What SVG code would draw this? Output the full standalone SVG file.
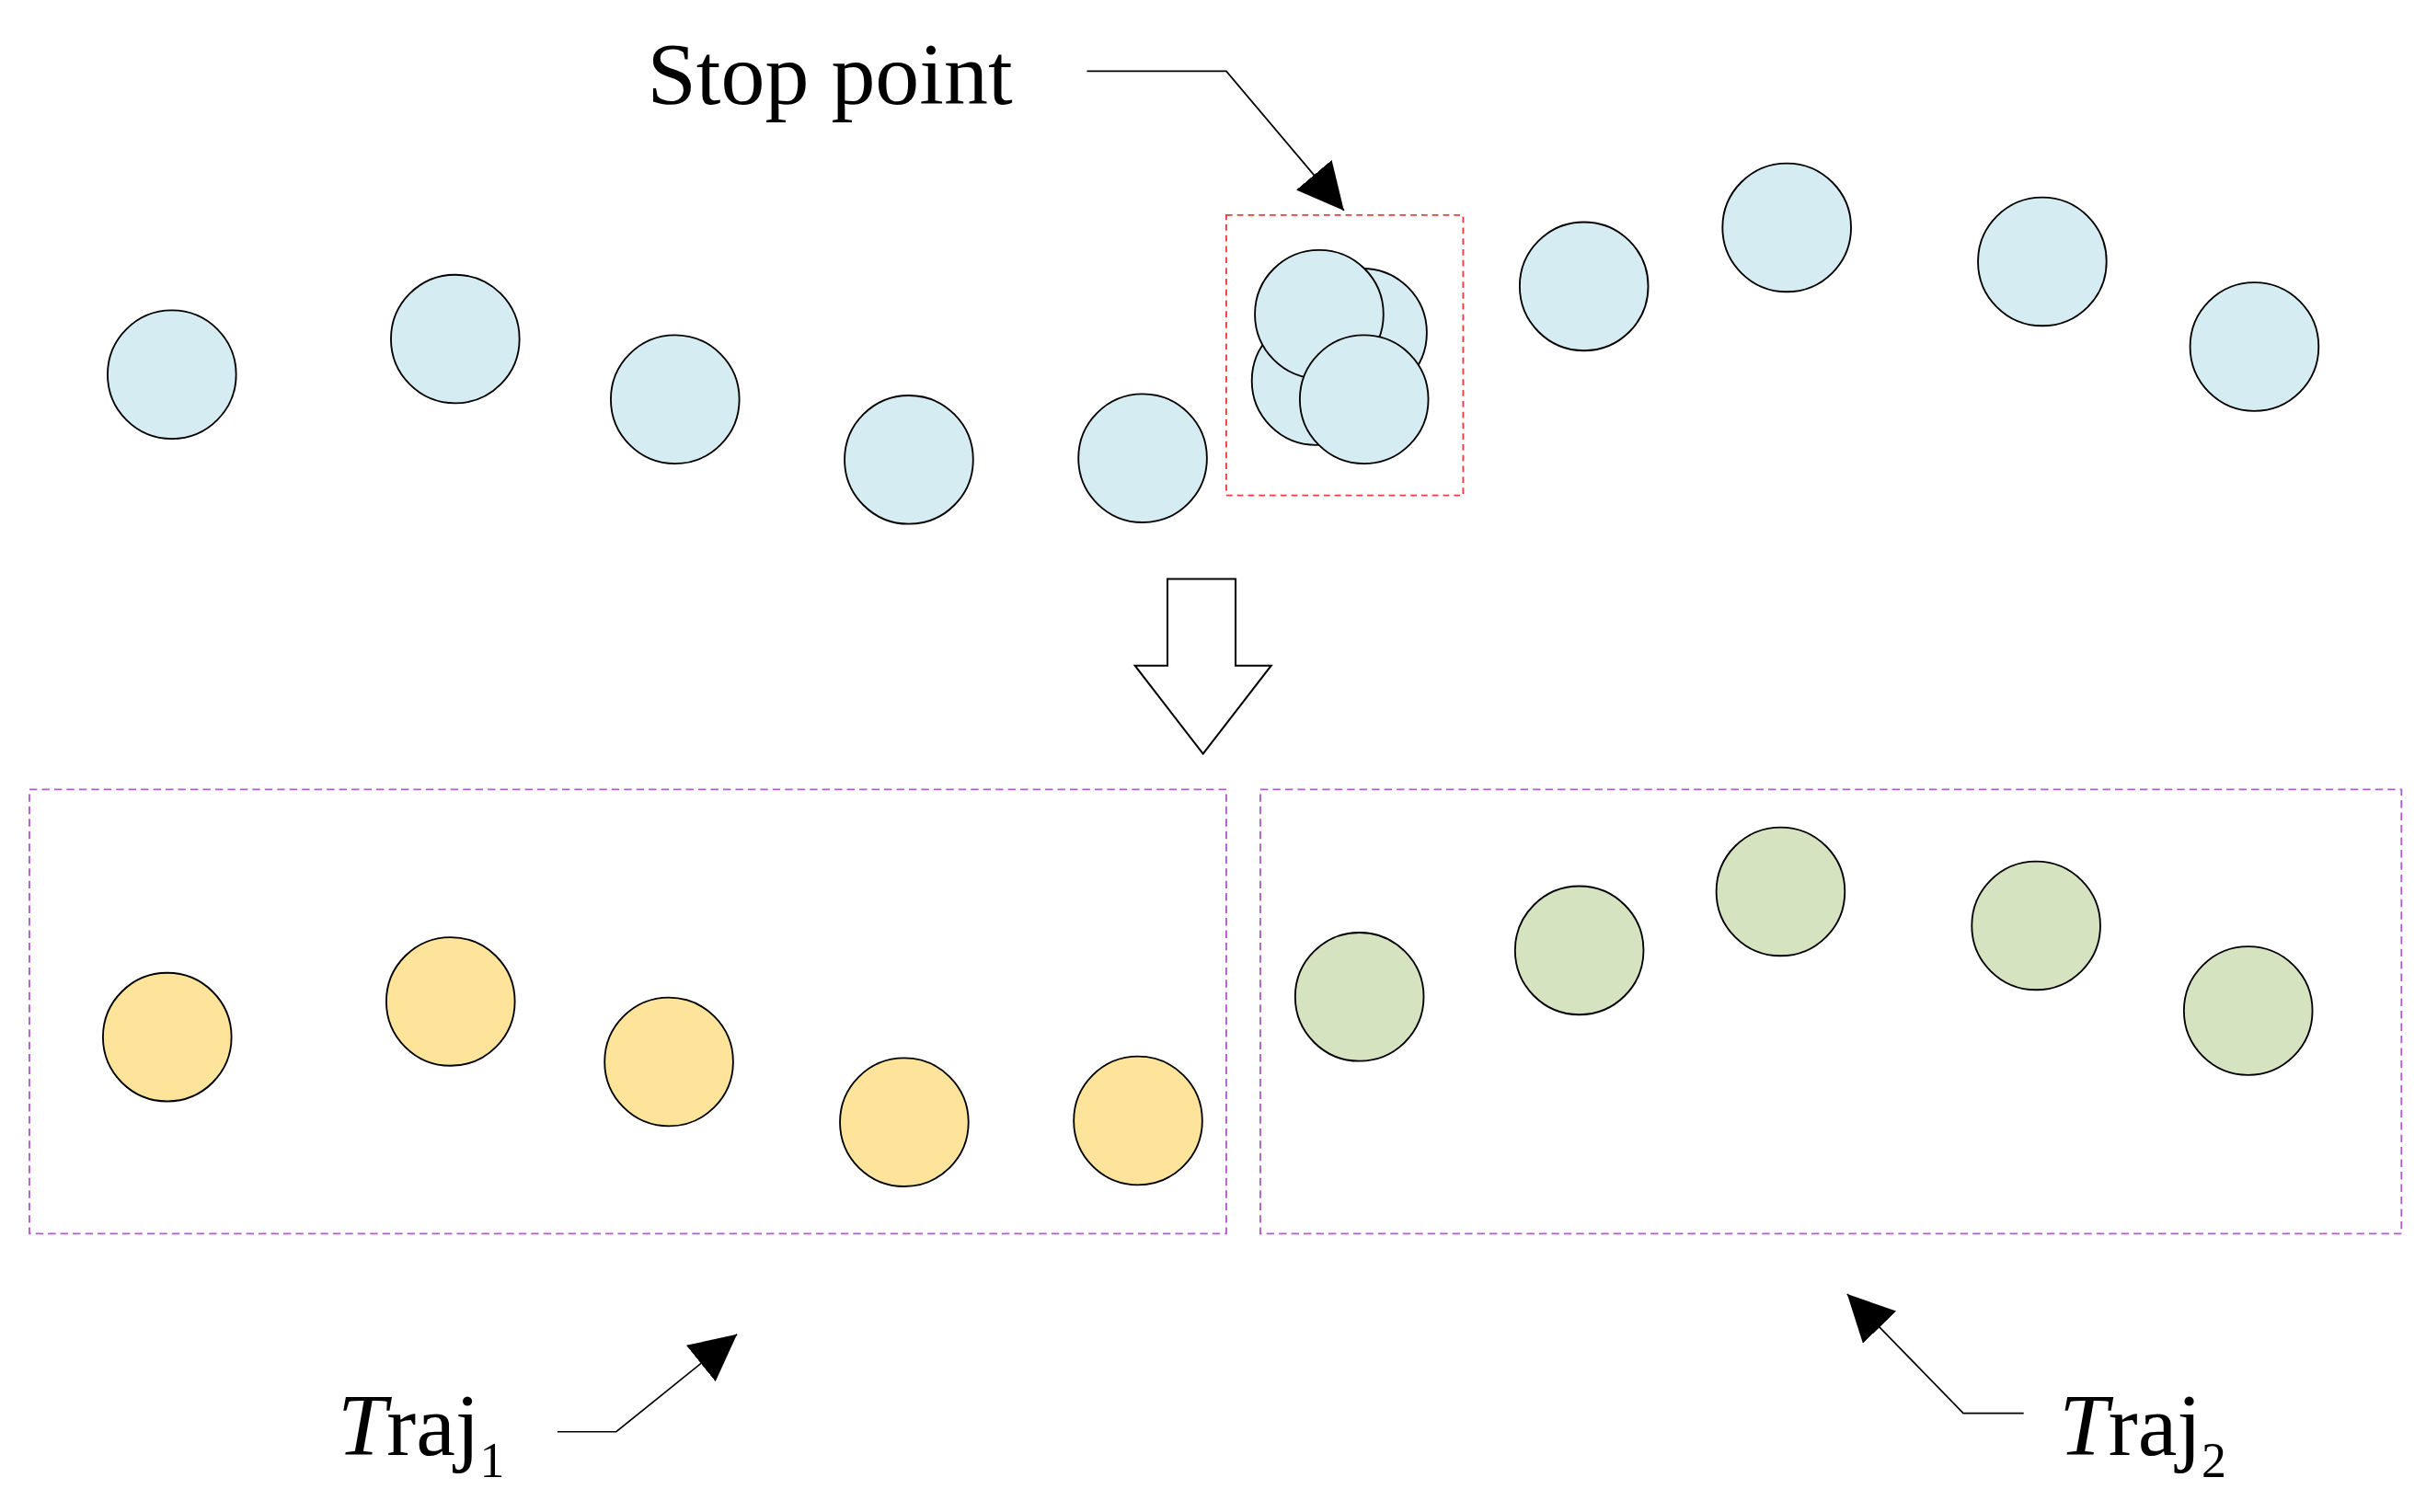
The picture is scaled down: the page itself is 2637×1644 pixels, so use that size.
<svg xmlns="http://www.w3.org/2000/svg" width="2637" height="1644" viewBox="0 0 2637 1644">
<style>
.b{fill:#d5ecf3;stroke:#000;stroke-width:1.1}
.y{fill:#fde49a;stroke:#000;stroke-width:1.1}
.g{fill:#d5e3c0;stroke:#000;stroke-width:1.1}
.t{font-family:"Liberation Serif",serif;fill:#000}
.ln{fill:none;stroke:#000;stroke-width:1}
</style>
<defs><marker id="ah" viewBox="0 0 10 10" refX="10" refY="5" markerWidth="30" markerHeight="30" markerUnits="userSpaceOnUse" orient="auto"><path d="M0,0L10,5L0,10z" fill="#000"/></marker></defs>
<rect width="2637" height="1644" fill="#fff"/>
<g transform="scale(1.683)">
<g id="top">
<circle class="b" cx="111" cy="242" r="41.5"/><circle class="b" cx="294" cy="219" r="41.5"/><circle class="b" cx="436" cy="258" r="41.5"/><circle class="b" cx="587" cy="297" r="41.5"/><circle class="b" cx="738" cy="296" r="41.5"/>
<circle class="b" cx="880" cy="215" r="41.5"/><circle class="b" cx="850" cy="246" r="41.5"/><circle class="b" cx="852" cy="203" r="41.5"/><circle class="b" cx="881" cy="258" r="41.5"/>
<circle class="b" cx="1023" cy="185" r="41.5"/><circle class="b" cx="1154" cy="147" r="41.5"/><circle class="b" cx="1319" cy="169" r="41.5"/><circle class="b" cx="1456" cy="224" r="41.5"/>
</g>
<g id="stop"><rect x="792" y="139" width="153" height="181" fill="none" stroke="#f03c3c" stroke-width="1.1" stroke-dasharray="4,3"/>
<text class="t" x="418" y="67" font-size="57">Stop point</text></g>
<g id="traj1box"><rect x="19" y="510" width="773" height="287" fill="none" stroke="#b25ad0" stroke-width="1.1" stroke-dasharray="5,3"/>
<circle class="y" cx="108" cy="670" r="41.5"/><circle class="y" cx="291" cy="647" r="41.5"/><circle class="y" cx="432" cy="686" r="41.5"/><circle class="y" cx="584" cy="725" r="41.5"/><circle class="y" cx="735" cy="724" r="41.5"/></g>
<g id="traj2box"><rect x="814" y="510" width="737" height="287" fill="none" stroke="#b25ad0" stroke-width="1.1" stroke-dasharray="5,3"/>
<circle class="g" cx="878" cy="644" r="41.5"/><circle class="g" cx="1020" cy="614" r="41.5"/><circle class="g" cx="1150" cy="576" r="41.5"/><circle class="g" cx="1315" cy="598" r="41.5"/><circle class="g" cx="1452" cy="653" r="41.5"/></g>
<g id="arrow"><path d="M754,374H798V430H821L777,487L733,430H754Z" fill="#fff" stroke="#000" stroke-width="1.2"/></g>
<g id="labels">
<text class="t" x="218" y="940" font-size="57"><tspan font-style="italic">T</tspan>raj<tspan font-size="32" dy="14">1</tspan></text>
<text class="t" x="1330" y="940" font-size="57"><tspan font-style="italic">T</tspan>raj<tspan font-size="32" dy="14">2</tspan></text>
</g>
<g id="connectors">
<path class="ln" d="M702,46H792L868,136" marker-end="url(#ah)"/>
<path class="ln" d="M360,925H398L476,862" marker-end="url(#ah)"/>
<path class="ln" d="M1307,913H1268L1193,836" marker-end="url(#ah)"/>
</g>
</g>
</svg>
